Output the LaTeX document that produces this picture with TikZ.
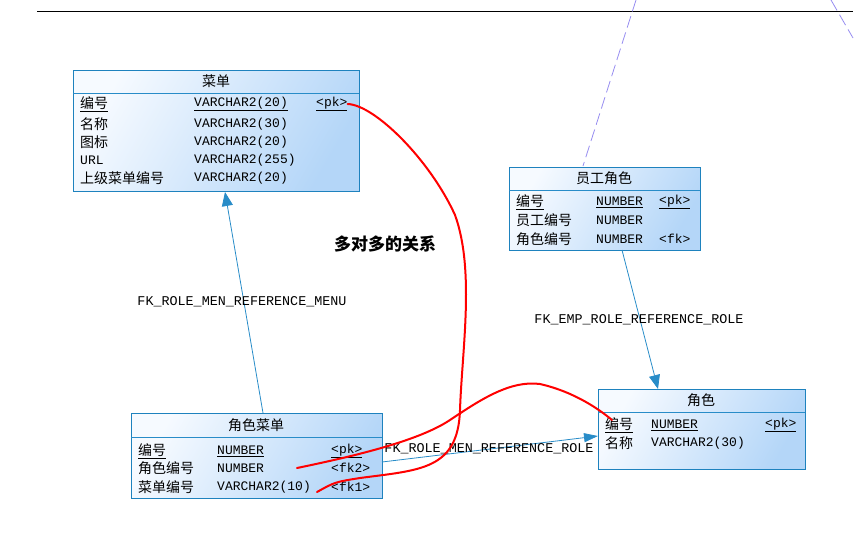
\documentclass[tikz,border=0pt]{standalone}
\usepackage{fontspec}
\setmainfont{Liberation Mono}
\newfontfamily\cjk{Noto Sans CJK SC}
\usetikzlibrary{arrows.meta}
\definecolor{lb}{RGB}{180,214,248}
\definecolor{lw}{RGB}{246,250,255}
\definecolor{bd}{RGB}{30,130,190}
\definecolor{ln}{RGB}{40,140,200}
\definecolor{dsh}{RGB}{150,140,240}
\begin{document}
\begin{tikzpicture}[x=1pt,y=-1pt,
  tbl/.style={draw=bd, line width=0.8pt, left color=lw, right color=lb, shading angle=60},
  cell/.style={anchor=west, inner sep=0pt, font=\fontsize{13}{13}\selectfont},
  ccell/.style={anchor=west, inner sep=0pt, font=\cjk\fontsize{14}{14}\selectfont},
  ttl/.style={inner sep=0pt, font=\cjk\fontsize{14}{14}\selectfont},
  lnk/.style={draw=ln, line width=0.8pt},
  lab/.style={inner sep=1pt, font=\fontsize{13.4}{13.4}\selectfont},
  red/.style={draw=red, line width=2pt, line cap=round}]
\useasboundingbox (0,0) rectangle (868,552);
\draw[black, line width=0.8pt] (37,11) -- (853,11);
\draw[dsh, dash pattern=on 12pt off 5pt, line width=0.8pt] (636,0) -- (583,166);
\draw[dsh, dash pattern=on 12pt off 5pt, line width=0.8pt] (831,0) -- (853,38);
% tables
\path[tbl] (73,70) rectangle (359,191); \draw[lnk] (73,93) -- (359,93);
\node[ttl] (t1) at (216,81) {菜单};
\path[tbl] (509,167) rectangle (700,250); \draw[lnk] (509,190) -- (700,190);
\node[ttl] (t2) at (604,178) {员工角色};
\path[tbl] (131,413) rectangle (382,498); \draw[lnk] (131,437) -- (382,437);
\node[ttl] (t3) at (256,425) {角色菜单};
\path[tbl] (598,389) rectangle (805,469); \draw[lnk] (598,412) -- (805,412);
\node[ttl] (t4) at (701,400) {角色};
\coordinate (menuB) at (225,192);
\coordinate (rmT) at (263,413);
\coordinate (erB) at (622,250);
\coordinate (roT) at (658,389);
\coordinate (rmR) at (382,462);
\coordinate (roL) at (598,436);
% menu rows
\foreach \y/\a/\b in {124/名称/VARCHAR2(30),142/图标/VARCHAR2(20),178/上级菜单编号/VARCHAR2(20)}{
  \node[ccell] at (80,\y) {\a};
  \node[cell] at (194,\y) {\b};}
\node[ccell] (m1) at (80,104) {\underline{编号}};
\node[cell] (m2) at (194,104) {\underline{VARCHAR2(20)}};
\node[cell] (mpk) at (316,104) {\underline{<pk>}};
\node[cell] at (80,160) {URL};
\node[cell] at (194,160) {VARCHAR2(255)};
% emp role
\node[ccell] at (516,202) {\underline{编号}};
\node[cell] at (596,202) {\underline{NUMBER}};
\node[cell] at (659,202) {\underline{<pk>}};
\node[ccell] at (516,220) {员工编号};
\node[cell] at (596,220) {NUMBER};
\node[ccell] at (516,239) {角色编号};
\node[cell] at (596,239) {NUMBER};
\node[cell] at (659,239) {<fk>};
% role menu
\node[ccell] at (138,451) {\underline{编号}};
\node[cell] at (217,451) {\underline{NUMBER}};
\node[cell] at (331,451) {\underline{<pk>}};
\node[ccell] at (138,468) {角色编号};
\node[cell] at (217,468) {NUMBER};
\node[cell] at (331,468) {<fk2>};
\node[ccell] at (138,487) {菜单编号};
\node[cell] at (217,487) {VARCHAR2(10)};
\node[cell] at (331,487) {<fk1>};
% role
\node[ccell] at (605,425) {\underline{编号}};
\node[cell] at (651,425) {\underline{NUMBER}};
\node[cell] at (765,425) {\underline{<pk>}};
\node[ccell] at (605,443) {名称};
\node[cell] at (651,443) {VARCHAR2(30)};
% links
\draw[lnk, -{Triangle[length=14pt,width=11pt]}] (rmT) -- (menuB);
\draw[lnk, -{Triangle[length=14pt,width=11pt]}] (erB) -- (roT);
\draw[lnk, -{Triangle[length=14pt,width=9pt]}] (rmR) -- (roL);
\node[lab] at (242,302) {FK\_ROLE\_MEN\_REFERENCE\_MENU};
\node[lab] at (639,320) {FK\_EMP\_ROLE\_REFERENCE\_ROLE};
\node[lab] at (489,449) {FK\_ROLE\_MEN\_REFERENCE\_ROLE};
\node[font=\cjk\bfseries\fontsize{17}{17}\selectfont] (note) at (385,244) {多对多的关系};
% red hand curves
\draw[red] (mpk.east) .. controls (375,105) and (430,160) .. (455,215)
  .. controls (475,270) and (462,350) .. (460,410)
  .. controls (458,470) and (420,470) .. (360,478) .. controls (335,482) .. (317,492);
\draw[red] (297,468) .. controls (360,455) and (420,440) .. (450,420)
  .. controls (480,400) and (510,380) .. (540,384) .. controls (575,392) and (600,410) .. (612,420);
\end{tikzpicture}
\end{document}
